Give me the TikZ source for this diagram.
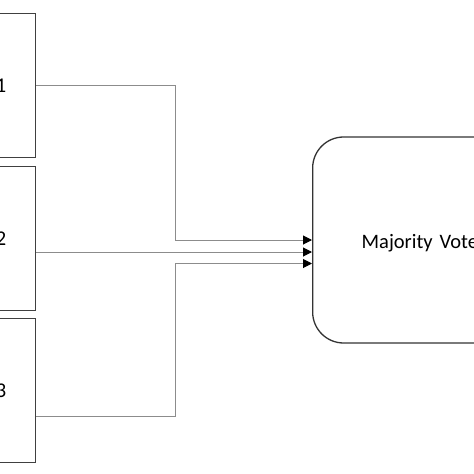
\documentclass[tikz,border=0pt]{standalone}
\usepackage{fontspec}
\setmainfont{Carlito}
\usetikzlibrary{arrows.meta}
\begin{document}
\begin{tikzpicture}[x=1pt,y=-1pt,
  inbox/.style={draw=black!75,line width=1.3pt,minimum width=100pt,minimum height=144pt,
    text width=42pt,align=right,inner xsep=29pt,font=\fontsize{21}{24}\selectfont,anchor=east},
  voter/.style={draw=black!80,line width=1.3pt,rounded corners=31pt,minimum width=260pt,minimum height=206pt,
    text width=162pt,align=left,inner xsep=49pt,font=\fontsize{20.5}{24}\selectfont,anchor=west},
  conn/.style={draw=black!45,line width=1pt},
  tip/.style={arrows={-Triangle[length=9pt,width=9pt,color=black]}}]
\useasboundingbox (0,0) rectangle (474,474);
\clip (0,0) rectangle (474,474);
\node[inbox] (b1) at (36,85.6) {1};
\node[inbox] (b2) at (36,238.3) {2};
\node[inbox] (b3) at (36,390.3) {3};
\node[voter] (mv) at (312,240) {\raisebox{-3pt}[\height][\depth]{Majority Vote}};
\coordinate (y1) at (0,240);
\coordinate (y2) at (0,252);
\coordinate (y3) at (0,263.5);
\coordinate (y4) at (0,416);
\coordinate (k1) at (175,240);
\coordinate (k3) at (175,263.5);
\draw[conn,tip] (b1.east) -| (k1) -- (mv.west |- y1);
\draw[conn,tip] (b2.east |- y2) -- (mv.west |- y2);
\draw[conn,tip] (b3.east |- y4) -| (k3) -- (mv.west |- y3);
\end{tikzpicture}
\end{document}
